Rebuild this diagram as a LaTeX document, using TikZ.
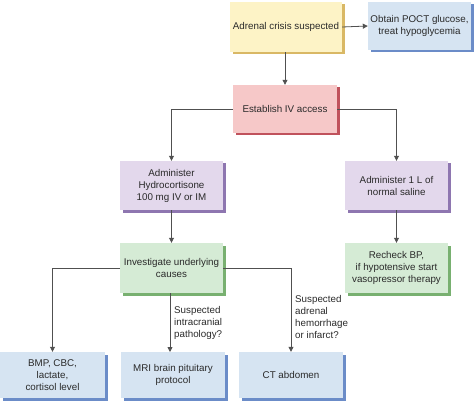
\documentclass[tikz,border=0pt]{standalone}
\usepackage{fontspec}
\setmainfont{Liberation Sans}
\usetikzlibrary{arrows.meta}
\definecolor{yelF}{HTML}{FDF3C6}\definecolor{yelS}{HTML}{D9B865}
\definecolor{bluF}{HTML}{D6E4F2}\definecolor{bluS}{HTML}{6B8CC8}
\definecolor{pnkF}{HTML}{F6C8C8}\definecolor{pnkS}{HTML}{C0525C}
\definecolor{purF}{HTML}{E3D8EC}\definecolor{purS}{HTML}{8E76B0}
\definecolor{grnF}{HTML}{D5EBD5}\definecolor{grnS}{HTML}{78B070}
\definecolor{txt}{HTML}{2A2A2A}
\definecolor{ln}{HTML}{505050}
\begin{document}
\begin{tikzpicture}[x=1pt,y=-1pt,
  font=\fontsize{9.8}{12}\selectfont, text=txt,
  box/.style={rectangle, minimum width=103pt, minimum height=48pt, inner sep=1pt, align=center},
  conn/.style={draw=ln, line width=0.8pt, -{Triangle[length=5pt,width=5pt]}},
  lbl/.style={align=left, anchor=west, inner sep=0pt}]
\useasboundingbox (0,0) rectangle (474,401);
% yellow
\fill[yelS] (232.5,4.5) rectangle (344.5,54.5);
\node[box, fill=yelF, minimum width=112pt, minimum height=50pt] (crisis) at (286,27) {Adrenal crisis suspected};
% blue top
\fill[bluS] (370.5,4.5) rectangle (473.5,52.5);
\node[box, fill=bluF] (poct) at (419.5,26) {Obtain POCT glucose,\\treat hypoglycemia};
% pink
\fill[pnkS] (235.5,87.5) rectangle (339.5,135.5);
\node[box, fill=pnkF, minimum width=104pt] (iv) at (285,109) {Establish IV access};
% purple
\fill[purS] (122.5,163.5) rectangle (225.5,212.5);
\node[box, fill=purF, minimum height=49pt] (hydro) at (171.5,185.5) {Administer\\Hydrocortisone\\100 mg IV or IM};
\fill[purS] (347.5,163.5) rectangle (450.5,212.5);
\node[box, fill=purF, minimum height=49pt] (saline) at (396.5,185.5) {Administer 1 L of\\normal saline};
% green
\fill[grnS] (122.5,245.5) rectangle (225.5,295.5);
\node[box, fill=grnF, minimum height=50pt] (invest) at (171.5,268) {Investigate underlying\\causes};
\fill[grnS] (347.5,245.5) rectangle (450.5,295.5);
\node[box, fill=grnF, minimum height=50pt] (bp) at (396.5,268) {Recheck BP,\\if hypotensive start\\vasopressor therapy};
% bottom blue
\fill[bluS] (2.5,354.5) rectangle (107.5,401);
\node[box, fill=bluF, minimum width=105pt, minimum height=46pt] (bmp) at (52.5,375) {BMP, CBC,\\lactate,\\cortisol level};
\fill[bluS] (123.5,354.5) rectangle (227.5,401);
\node[box, fill=bluF, minimum width=104pt, minimum height=46pt] (mri) at (173,375) {MRI brain pituitary\\protocol};
\fill[bluS] (241.5,354.5) rectangle (345.5,401);
\node[box, fill=bluF, minimum width=104pt, minimum height=46pt] (ct) at (291,375) {CT abdomen};
% connectors
\draw[conn] (crisis.east) -- (poct.west);
\draw[conn] (iv.north |- crisis.south) -- (iv.north);
\draw[conn] (iv.west) -| (hydro.north);
\draw[conn] (iv.east) -| (saline.north);
\draw[conn] (hydro.south) -- (invest.north);
\draw[conn] (saline.south) -- (bp.north);
\draw[conn] (invest.west) -| (bmp.north);
\coordinate (mritop) at (170,352);
\draw[conn] (invest.south -| mritop) -- (mritop);
\draw[conn] (invest.east) -| (ct.north);
% labels
\node[lbl] (l1) at (174,323) {Suspected\\intracranial\\pathology?};
\node[lbl] (l2) at (295,317) {Suspected\\adrenal\\hemorrhage\\or infarct?};
\end{tikzpicture}
\end{document}
